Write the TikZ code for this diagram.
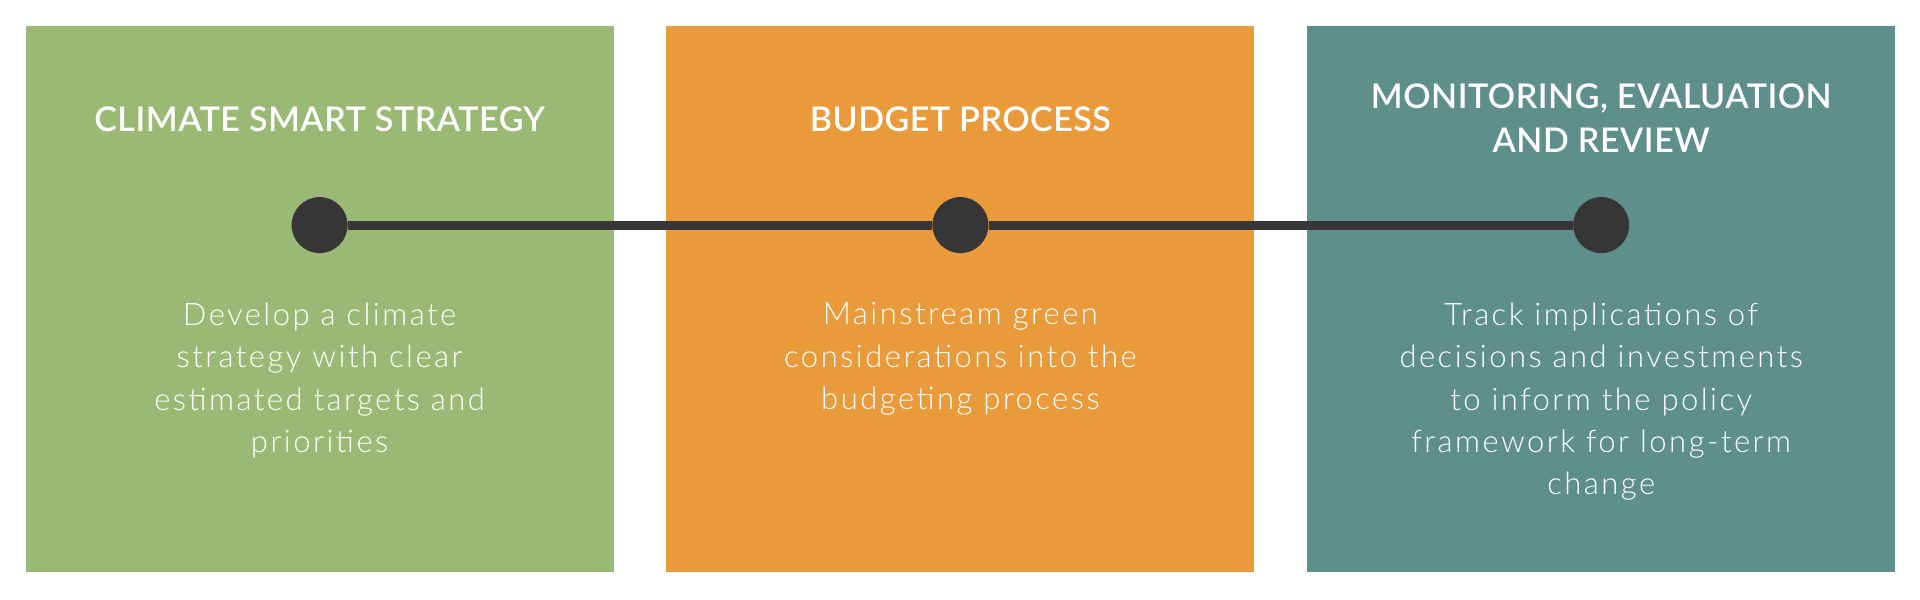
\documentclass[tikz,border=0pt]{standalone}
\usepackage{fontspec}
\setmainfont{Lato}
\IfFontExistsTF{Lato Light}
  {\newfontfamily\bodyfont{Lato Light}[LetterSpace=8]}
  {\newfontfamily\bodyfont{Lato}[LetterSpace=8]}
\IfFontExistsTF{Lato Semibold}
  {\newfontfamily\headfont{Lato Semibold}[LetterSpace=1.5]}
  {\newfontfamily\headfont{Lato}[LetterSpace=1.5]}
\usepackage{tikz}
\usetikzlibrary{positioning}

\definecolor{strategygreen}{HTML}{99B974}
\definecolor{budgetorange}{HTML}{E99A3A}
\definecolor{reviewteal}{HTML}{5E8F8A}
\definecolor{dotgray}{HTML}{363636}

\begin{document}
\begin{tikzpicture}[
                  node distance=26pt,
                  panel/.style={rectangle, minimum width=294pt, minimum height=273pt, inner sep=0pt},
                  heading/.style={align=center, text=white, inner sep=0pt, font=\fontsize{17pt}{22pt}\headfont},
                  body/.style={align=center, text=white, inner sep=0pt, font=\fontsize{15.5pt}{21.2pt}\bodyfont},
                  dot/.style={circle, fill=dotgray, minimum size=28pt, inner sep=0pt},
                  line/.style={draw=dotgray, line width=4.5pt}
            ]
            \useasboundingbox (0,0) rectangle (960pt,299.5pt);

            % Nodes
            \node [panel, fill=strategygreen] (strategy) at (159.8pt,150.1pt) {};
            \node [panel, fill=budgetorange, right=of strategy] (budget) {};
            \node [panel, fill=reviewteal, right=of budget] (review) {};
            \node [dot, below=85.65pt of strategy.north] (sdot) {};
            \node [dot, below=85.65pt of budget.north] (bdot) {};
            \node [dot, below=85.65pt of review.north] (rdot) {};

            % Edges
            \path [line] (sdot) -- (bdot);
            \path [line] (bdot) -- (rdot);

            % Labels
            \node [heading, below=40.4pt of strategy.north] {CLIMATE SMART STRATEGY};
            \node [heading, below=40.4pt of budget.north] {BUDGET PROCESS};
            \node [heading, below=28.9pt of review.north] {MONITORING, EVALUATION\\AND REVIEW};
            \node [body, below=138.5pt of strategy.north] {Develop a climate\\strategy with clear\\estimated targets and\\priorities};
            \node [body, below=138.5pt of budget.north] {Mainstream green\\considerations into the\\budgeting process};
            \node [body, below=138.5pt of review.north] {Track implications of\\decisions and investments\\to inform the policy\\framework for long-term\\change};
      \end{tikzpicture}
\end{document}
